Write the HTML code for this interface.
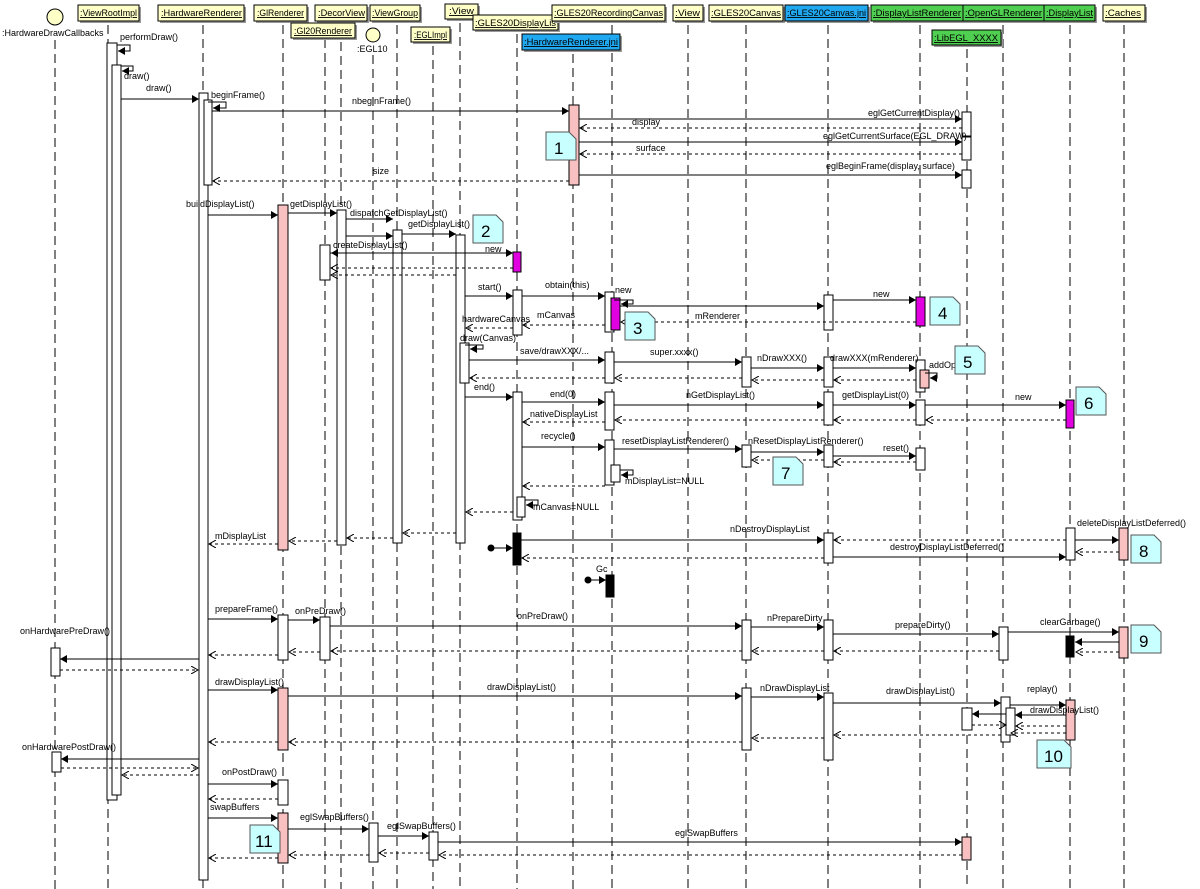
<!DOCTYPE html>
<html><head><meta charset="utf-8"><style>
html,body{margin:0;padding:0;background:#fff}
svg{display:block}
text{font-family:"Liberation Sans",sans-serif;font-size:9px;fill:#000}
.h{font-size:9px;text-decoration:underline}
.n{font-size:17px}
.ll{stroke:#000;stroke-width:1;stroke-dasharray:9,5}
.m{stroke:#000;stroke-width:1;fill:none;marker-end:url(#a)}
.r{stroke:#000;stroke-width:1;fill:none;stroke-dasharray:3,3;marker-end:url(#o)}
.act{fill:#fff;stroke:#000}
.pk{fill:#f8c0c0;stroke:#000}
.mg{fill:#e000e0;stroke:#000}
.bk{fill:#000;stroke:#000}
.y{fill:#ffffc8;stroke:#000}
.b{fill:#20a8f0;stroke:#000}
.g{fill:#50d050;stroke:#000}
.sh{fill:#999}
.nt{fill:#c8ffff;stroke:#555}
</style></head><body>
<svg width="1200" height="889" viewBox="0 0 1200 889" xmlns="http://www.w3.org/2000/svg">
<defs>
<marker id="a" markerWidth="8" markerHeight="8" refX="7" refY="4" orient="auto" markerUnits="userSpaceOnUse"><path d="M0,0 L7,4 L0,8z" fill="#000"/></marker>
<marker id="o" markerWidth="8" markerHeight="8" refX="7" refY="4" orient="auto" markerUnits="userSpaceOnUse"><path d="M0,0 L7,4 L0,8" fill="none" stroke="#000"/></marker>
</defs>

<!-- lifelines -->
<g class="ll">
<line x1="55" y1="40" x2="55" y2="889"/><line x1="108" y1="25" x2="108" y2="889"/>
<line x1="203" y1="25" x2="203" y2="889"/><line x1="283" y1="25" x2="283" y2="889"/>
<line x1="325" y1="25" x2="325" y2="889"/><line x1="341" y1="42" x2="341" y2="889"/>
<line x1="373" y1="55" x2="373" y2="889"/><line x1="397" y1="25" x2="397" y2="889"/>
<line x1="433" y1="46" x2="433" y2="889"/><line x1="460" y1="23" x2="460" y2="889"/>
<line x1="517" y1="34" x2="517" y2="889"/><line x1="573" y1="54" x2="573" y2="889"/>
<line x1="612" y1="25" x2="612" y2="889"/><line x1="688" y1="25" x2="688" y2="889"/>
<line x1="746" y1="25" x2="746" y2="889"/><line x1="828" y1="25" x2="828" y2="889"/>
<line x1="920" y1="25" x2="920" y2="889"/><line x1="967" y1="49" x2="967" y2="889"/>
<line x1="1003" y1="25" x2="1003" y2="889"/><line x1="1070" y1="25" x2="1070" y2="889"/>
<line x1="1124" y1="25" x2="1124" y2="889"/>
</g>

<!-- headers -->
<circle cx="55" cy="17" r="8" fill="#ffffc8" stroke="#000"/>
<text x="2" y="36">:HardwareDrawCallbacks</text>
<circle cx="373" cy="35" r="7" fill="#ffffc8" stroke="#000"/>
<text x="357" y="52">:EGL10</text>
<g>
<rect class="sh" x="80" y="7" width="61" height="16"/><rect class="y" x="78" y="5" width="61" height="16"/><text class="h" x="80" y="16" textLength="57" lengthAdjust="spacingAndGlyphs">:ViewRootImpl</text>
<rect class="sh" x="160" y="7" width="86" height="16"/><rect class="y" x="158" y="5" width="86" height="16"/><text class="h" x="161" y="16" textLength="81" lengthAdjust="spacingAndGlyphs">:HardwareRenderer</text>
<rect class="sh" x="256" y="7" width="53" height="16"/><rect class="y" x="254" y="5" width="53" height="16"/><text class="h" x="257" y="16" textLength="47" lengthAdjust="spacingAndGlyphs">:GlRenderer</text>
<rect class="sh" x="317" y="7" width="52" height="16"/><rect class="y" x="315" y="5" width="52" height="16"/><text class="h" x="318" y="16" textLength="47" lengthAdjust="spacingAndGlyphs">:DecorView</text>
<rect class="sh" x="372" y="7" width="50" height="16"/><rect class="y" x="370" y="5" width="50" height="16"/><text class="h" x="372" y="16" textLength="46" lengthAdjust="spacingAndGlyphs">:ViewGroup</text>
<rect class="sh" x="293" y="25" width="64" height="15"/><rect class="y" x="291" y="23" width="64" height="15"/><text class="h" x="294" y="34" textLength="58" lengthAdjust="spacingAndGlyphs">:Gl20Renderer</text>
<rect class="sh" x="447" y="6" width="33" height="15"/><rect class="y" x="445" y="4" width="33" height="15"/><text class="h" x="449" y="14" textLength="25" lengthAdjust="spacingAndGlyphs">:View</text>
<rect class="sh" x="413" y="29" width="39" height="15"/><rect class="y" x="411" y="27" width="39" height="15"/><text class="h" x="414" y="38" textLength="33" lengthAdjust="spacingAndGlyphs">:EGLImpl</text>
<rect class="sh" x="475" y="17" width="85" height="15"/><rect class="y" x="473" y="15" width="85" height="15"/><text class="h" x="475" y="26" textLength="81" lengthAdjust="spacingAndGlyphs">:GLES20DisplayLis</text>
<rect class="sh" x="554" y="7" width="113" height="16"/><rect class="y" x="552" y="5" width="113" height="16"/><text class="h" x="554" y="16" textLength="109" lengthAdjust="spacingAndGlyphs">:GLES20RecordingCanvas</text>
<rect class="sh" x="524" y="36" width="98" height="16"/><rect class="b" x="522" y="34" width="98" height="16"/><text class="h" x="524" y="45" textLength="94" lengthAdjust="spacingAndGlyphs">:HardwareRenderer.jni</text>
<rect class="sh" x="675" y="7" width="30" height="16"/><rect class="y" x="673" y="5" width="30" height="16"/><text class="h" x="675" y="16" textLength="25" lengthAdjust="spacingAndGlyphs">:View</text>
<rect class="sh" x="711" y="7" width="74" height="16"/><rect class="y" x="709" y="5" width="74" height="16"/><text class="h" x="711" y="16" textLength="70" lengthAdjust="spacingAndGlyphs">:GLES20Canvas</text>
<rect class="sh" x="787" y="7" width="83" height="16"/><rect class="b" x="785" y="5" width="83" height="16"/><text class="h" x="787" y="16" textLength="79" lengthAdjust="spacingAndGlyphs">:GLES20Canvas.jni</text>
<rect class="sh" x="873" y="7" width="176" height="16"/>
<rect class="g" x="871" y="5" width="92" height="16"/><text class="h" x="873" y="16" textLength="88" lengthAdjust="spacingAndGlyphs">:DisplayListRenderer</text>
<rect class="g" x="963" y="5" width="81" height="16"/><text class="h" x="965" y="16" textLength="77" lengthAdjust="spacingAndGlyphs">:OpenGLRenderer</text>
<rect class="sh" x="1047" y="7" width="50" height="16"/><rect class="g" x="1044" y="5" width="51" height="16"/><text class="h" x="1046" y="16" textLength="47" lengthAdjust="spacingAndGlyphs">:DisplayList</text>
<rect class="sh" x="1105" y="7" width="42" height="16"/><rect class="y" x="1103" y="5" width="42" height="16"/><text class="h" x="1105" y="16" textLength="36" lengthAdjust="spacingAndGlyphs">:Caches</text>
<rect class="sh" x="934" y="32" width="69" height="15"/><rect class="g" x="932" y="30" width="69" height="15"/><text class="h" x="934" y="41" textLength="64" lengthAdjust="spacingAndGlyphs">:LibEGL_XXXX</text>
</g>

<!-- activations -->
<rect class="act" x="107" y="43" width="10" height="757"/>
<rect class="act" x="112" y="65" width="9" height="730"/>
<rect class="act" x="199" y="93" width="9" height="787"/>
<rect class="act" x="204" y="100" width="8" height="85"/>
<rect class="pk" x="569" y="105" width="10" height="80"/>
<rect class="act" x="962" y="112" width="9" height="24"/>
<rect class="act" x="962" y="137" width="9" height="23"/>
<rect class="act" x="962" y="170" width="9" height="18"/>
<rect class="pk" x="278" y="205" width="10" height="345"/>
<rect class="act" x="337" y="210" width="9" height="335"/>
<rect class="act" x="320" y="245" width="10" height="35"/>
<rect class="act" x="393" y="230" width="9" height="313"/>
<rect class="act" x="456" y="235" width="9" height="308"/>
<rect class="act" x="460" y="343" width="9" height="40"/>
<rect class="mg" x="513" y="252" width="8" height="20"/>
<rect class="act" x="513" y="290" width="9" height="45"/>
<rect class="act" x="513" y="392" width="9" height="128"/>
<rect class="act" x="517" y="497" width="8" height="20"/>
<rect class="act" x="605" y="292" width="9" height="40"/>
<rect class="mg" x="611" y="298" width="9" height="32"/>
<rect class="act" x="605" y="352" width="9" height="31"/>
<rect class="act" x="605" y="392" width="9" height="38"/>
<rect class="act" x="605" y="440" width="9" height="45"/>
<rect class="act" x="611" y="465" width="9" height="17"/>
<rect class="act" x="742" y="357" width="9" height="30"/>
<rect class="act" x="742" y="445" width="9" height="22"/>
<rect class="act" x="742" y="620" width="9" height="40"/>
<rect class="act" x="742" y="688" width="9" height="62"/>
<rect class="act" x="824" y="295" width="9" height="35"/>
<rect class="act" x="824" y="357" width="9" height="30"/>
<rect class="act" x="824" y="392" width="9" height="33"/>
<rect class="act" x="824" y="445" width="9" height="22"/>
<rect class="act" x="824" y="533" width="9" height="30"/>
<rect class="act" x="824" y="620" width="9" height="40"/>
<rect class="act" x="824" y="693" width="9" height="67"/>
<rect class="mg" x="916" y="297" width="9" height="29"/>
<rect class="act" x="916" y="360" width="9" height="32"/>
<rect class="pk" x="920" y="370" width="9" height="18"/>
<rect class="act" x="916" y="400" width="9" height="25"/>
<rect class="act" x="916" y="448" width="9" height="22"/>
<rect class="mg" x="1066" y="400" width="8" height="28"/>
<rect class="act" x="1066" y="528" width="9" height="32"/>
<rect class="bk" x="1066" y="636" width="8" height="21"/>
<rect class="pk" x="1066" y="700" width="9" height="40"/>
<rect class="pk" x="1119" y="528" width="9" height="32"/>
<rect class="pk" x="1119" y="627" width="9" height="31"/>
<rect class="act" x="999" y="627" width="9" height="33"/>
<rect class="act" x="1001" y="697" width="9" height="45"/>
<rect class="act" x="1006" y="708" width="9" height="27"/>
<rect class="act" x="962" y="708" width="10" height="22"/>
<rect class="bk" x="513" y="533" width="8" height="32"/>
<rect class="bk" x="606" y="575" width="8" height="22"/>
<circle cx="491" cy="548" r="3.5" fill="#000"/>
<circle cx="588" cy="580" r="3.5" fill="#000"/>
<rect class="act" x="51" y="648" width="9" height="28"/>
<rect class="act" x="52" y="752" width="9" height="20"/>
<rect class="act" x="278" y="615" width="10" height="45"/>
<rect class="act" x="320" y="617" width="10" height="43"/>
<rect class="pk" x="278" y="688" width="10" height="62"/>
<rect class="act" x="278" y="780" width="10" height="25"/>
<rect class="pk" x="278" y="813" width="10" height="50"/>
<rect class="act" x="369" y="823" width="9" height="39"/>
<rect class="act" x="429" y="832" width="9" height="28"/>
<rect class="pk" x="962" y="837" width="9" height="23"/>

<!-- messages -->
<g>
<path class="m" d="M117,45 H130 V51 H118"/><text x="120" y="40">performDraw()</text>
<path class="m" d="M121,66 H133 V71 H122"/><text x="124" y="79">draw()</text>
<line class="m" x1="121" y1="99" x2="199" y2="99"/><text x="146" y="91">draw()</text>
<path class="m" d="M208,102 H226 V108 H213"/><text x="211" y="98">beginFrame()</text>
<line class="m" x1="212" y1="111" x2="569" y2="111"/><text x="352" y="104">nbeginFrame()</text>
<line class="m" x1="579" y1="119" x2="962" y2="119"/><text x="868" y="116">eglGetCurrentDisplay()</text>
<line class="r" x1="962" y1="128" x2="580" y2="128"/><text x="632" y="125">display</text>
<line class="m" x1="579" y1="142" x2="962" y2="142"/><text x="823" y="139">eglGetCurrentSurface(EGL_DRAW)</text>
<line class="r" x1="962" y1="154" x2="580" y2="154"/><text x="636" y="151">surface</text>
<line class="m" x1="579" y1="175" x2="962" y2="175"/><text x="826" y="169">eglBeginFrame(display, surface)</text>
<line class="r" x1="569" y1="181" x2="213" y2="181"/><text x="373" y="174">size</text>

<line class="m" x1="208" y1="215" x2="278" y2="215"/><text x="186" y="207">buildDisplayList()</text>
<line class="m" x1="288" y1="213" x2="337" y2="213"/><text x="290" y="207">getDisplayList()</text>
<line class="m" x1="346" y1="219" x2="393" y2="219"/><text x="350" y="216">dispatchGetDisplayList()</text>
<line class="m" x1="402" y1="234" x2="456" y2="234"/><text x="408" y="227">getDisplayList()</text>
<line class="m" x1="346" y1="236" x2="393" y2="236"/>
<text x="333" y="248">createDisplayList()</text>
<line class="m" x1="330" y1="253" x2="513" y2="253"/><text x="485" y="252">new</text>
<line class="m" x1="456" y1="253" x2="331" y2="253"/>
<line class="r" x1="513" y1="268" x2="331" y2="268"/>
<line class="r" x1="456" y1="275" x2="331" y2="275"/>

<line class="m" x1="465" y1="296" x2="513" y2="296"/><text x="478" y="290">start()</text>
<line class="m" x1="522" y1="296" x2="605" y2="296"/><text x="545" y="288">obtain(this)</text>
<path class="m" d="M614,300 H633 V304 H621"/><text x="615" y="293">new</text>
<line class="m" x1="620" y1="306" x2="824" y2="306"/>
<line class="m" x1="833" y1="300" x2="916" y2="300"/><text x="873" y="297">new</text>
<line class="r" x1="916" y1="322" x2="621" y2="322"/><text x="695" y="319">mRenderer</text>
<line class="r" x1="605" y1="325" x2="523" y2="325"/><text x="537" y="318">mCanvas</text>
<line class="r" x1="513" y1="328" x2="466" y2="328"/><text x="462" y="322">hardwareCanvas</text>

<path class="m" d="M465,345 H483 V349 H470"/><text x="460" y="341">draw(Canvas)</text>
<line class="m" x1="469" y1="360" x2="605" y2="360"/><text x="520" y="354">save/drawXXX/...</text>
<line class="m" x1="614" y1="362" x2="742" y2="362"/><text x="650" y="355">super.xxxx()</text>
<line class="m" x1="751" y1="368" x2="824" y2="368"/><text x="757" y="361">nDrawXXX()</text>
<line class="m" x1="833" y1="368" x2="916" y2="368"/><text x="830" y="361">drawXXX(mRenderer)</text>
<path class="m" d="M925,373 H937 V378 H930"/><text x="929" y="368">addOp()</text>
<line class="r" x1="916" y1="380" x2="834" y2="380"/>
<line class="r" x1="824" y1="380" x2="752" y2="380"/>
<line class="r" x1="742" y1="378" x2="615" y2="378"/>
<line class="r" x1="605" y1="378" x2="470" y2="378"/>

<line class="m" x1="465" y1="397" x2="513" y2="397"/><text x="474" y="390">end()</text>
<line class="m" x1="522" y1="402" x2="605" y2="402"/><text x="550" y="397">end(0)</text>
<line class="m" x1="614" y1="405" x2="824" y2="405"/><text x="686" y="398">nGetDisplayList()</text>
<line class="m" x1="833" y1="405" x2="916" y2="405"/><text x="842" y="398">getDisplayList(0)</text>
<line class="m" x1="925" y1="405" x2="1066" y2="405"/><text x="1015" y="400">new</text>
<line class="r" x1="1066" y1="420" x2="926" y2="420"/>
<line class="r" x1="916" y1="420" x2="834" y2="420"/>
<line class="r" x1="824" y1="420" x2="615" y2="420"/>
<line class="r" x1="605" y1="422" x2="523" y2="422"/><text x="530" y="417">nativeDisplayList</text>

<line class="m" x1="522" y1="447" x2="605" y2="447"/><text x="541" y="439">recycle()</text>
<line class="m" x1="614" y1="449" x2="742" y2="449"/><text x="622" y="444">resetDisplayListRenderer()</text>
<line class="m" x1="751" y1="452" x2="824" y2="452"/><text x="748" y="444">nResetDisplayListRenderer()</text>
<line class="m" x1="833" y1="456" x2="916" y2="456"/><text x="883" y="451">reset()</text>
<line class="r" x1="916" y1="462" x2="834" y2="462"/>
<line class="r" x1="824" y1="460" x2="752" y2="460"/>
<path class="m" d="M620,470 H633 V475 H621"/><text x="625" y="484">mDisplayList=NULL</text>
<line class="r" x1="605" y1="486" x2="523" y2="486"/>
<path class="m" d="M525,500 H538 V505 H526"/><text x="533" y="510">mCanvas=NULL</text>
<line class="r" x1="513" y1="512" x2="466" y2="512"/>
<line class="r" x1="456" y1="533" x2="403" y2="533"/>
<line class="r" x1="393" y1="538" x2="347" y2="538"/>
<line class="r" x1="337" y1="541" x2="289" y2="541"/>
<line class="r" x1="278" y1="544" x2="209" y2="544"/><text x="215" y="539">mDisplayList</text>

<line class="m" x1="494" y1="548" x2="513" y2="548"/>
<line class="m" x1="521" y1="540" x2="824" y2="540"/><text x="730" y="532">nDestroyDisplayList</text>
<line class="m" x1="1075" y1="540" x2="1119" y2="540"/><text x="1077" y="526">deleteDisplayListDeferred()</text>
<line class="r" x1="1119" y1="552" x2="1076" y2="552"/>
<line class="r" x1="1066" y1="540" x2="834" y2="540"/>
<line class="m" x1="833" y1="557" x2="1066" y2="557"/><text x="890" y="550">destroyDisplayListDeferred()</text>
<line class="r" x1="824" y1="558" x2="522" y2="558"/>
<line class="m" x1="591" y1="580" x2="606" y2="580"/><text x="596" y="572">Gc</text>

<line class="m" x1="208" y1="619" x2="278" y2="619"/><text x="215" y="612">prepareFrame()</text>
<line class="m" x1="288" y1="620" x2="320" y2="620"/><text x="295" y="614">onPreDraw()</text>
<line class="m" x1="330" y1="626" x2="742" y2="626"/><text x="517" y="619">onPreDraw()</text>
<line class="m" x1="751" y1="627" x2="824" y2="627"/><text x="767" y="621">nPrepareDirty</text>
<line class="m" x1="833" y1="634" x2="999" y2="634"/><text x="895" y="628">prepareDirty()</text>
<line class="m" x1="1008" y1="632" x2="1119" y2="632"/><text x="1040" y="625">clearGarbage()</text>
<line class="m" x1="1119" y1="642" x2="1075" y2="642"/>
<line class="r" x1="1119" y1="652" x2="1076" y2="652"/>
<line class="r" x1="999" y1="651" x2="834" y2="651"/>
<line class="r" x1="824" y1="651" x2="752" y2="651"/>
<line class="r" x1="742" y1="651" x2="331" y2="651"/>
<line class="r" x1="320" y1="652" x2="289" y2="652"/>
<line class="r" x1="278" y1="655" x2="209" y2="655"/>
<line class="m" x1="199" y1="659" x2="60" y2="659"/><text x="20" y="634">onHardwarePreDraw()</text>
<line class="r" x1="60" y1="670" x2="198" y2="670"/>

<line class="m" x1="208" y1="690" x2="278" y2="690"/><text x="215" y="685">drawDisplayList()</text>
<line class="m" x1="288" y1="696" x2="742" y2="696"/><text x="487" y="690">drawDisplayList()</text>
<line class="m" x1="751" y1="697" x2="824" y2="697"/><text x="760" y="691">nDrawDisplayList</text>
<line class="m" x1="833" y1="703" x2="1001" y2="703"/><text x="886" y="694">drawDisplayList()</text>
<line class="m" x1="1010" y1="705" x2="1066" y2="705"/><text x="1027" y="692">replay()</text>
<line class="m" x1="1066" y1="715" x2="1015" y2="715"/><text x="1030" y="713">drawDisplayList()</text>
<line class="m" x1="1006" y1="714" x2="972" y2="714"/>
<line class="r" x1="972" y1="725" x2="1006" y2="725"/>
<line class="r" x1="1066" y1="726" x2="1016" y2="726"/>
<line class="r" x1="1066" y1="733" x2="1011" y2="733"/>
<line class="r" x1="1001" y1="735" x2="834" y2="735"/>
<line class="r" x1="824" y1="738" x2="752" y2="738"/>
<line class="r" x1="742" y1="742" x2="289" y2="742"/>
<line class="r" x1="278" y1="742" x2="209" y2="742"/>
<line class="m" x1="199" y1="759" x2="61" y2="759"/><text x="22" y="750">onHardwarePostDraw()</text>
<line class="r" x1="61" y1="768" x2="198" y2="768"/>
<line class="r" x1="199" y1="775" x2="122" y2="775"/>

<line class="m" x1="208" y1="784" x2="278" y2="784"/><text x="222" y="775">onPostDraw()</text>
<line class="r" x1="278" y1="799" x2="209" y2="799"/>
<line class="m" x1="208" y1="818" x2="278" y2="818"/><text x="210" y="810">swapBuffers</text>
<line class="m" x1="288" y1="829" x2="369" y2="829"/><text x="300" y="820">eglSwapBuffers()</text>
<line class="m" x1="378" y1="836" x2="429" y2="836"/><text x="387" y="829">eglSwapBuffers()</text>
<line class="m" x1="438" y1="842" x2="962" y2="842"/><text x="675" y="836">eglSwapBuffers</text>
<line class="r" x1="962" y1="855" x2="439" y2="855"/>
<line class="r" x1="429" y1="853" x2="379" y2="853"/>
<line class="r" x1="369" y1="855" x2="289" y2="855"/>
<line class="r" x1="278" y1="858" x2="209" y2="858"/>
</g>

<!-- notes -->
<g>
<path class="nt" d="M546,132 H569 L576,139 V160 H546z"/><text class="n" x="554" y="154">1</text>
<path class="nt" d="M473,215 H496 L503,222 V243 H473z"/><text class="n" x="481" y="237">2</text>
<path class="nt" d="M625,312 H648 L655,319 V340 H625z"/><text class="n" x="633" y="334">3</text>
<path class="nt" d="M930,297 H953 L960,304 V325 H930z"/><text class="n" x="938" y="319">4</text>
<path class="nt" d="M955,346 H978 L985,353 V374 H955z"/><text class="n" x="963" y="368">5</text>
<path class="nt" d="M1076,387 H1099 L1106,394 V415 H1076z"/><text class="n" x="1084" y="409">6</text>
<path class="nt" d="M773,457 H796 L803,464 V485 H773z"/><text class="n" x="781" y="479">7</text>
<path class="nt" d="M1131,535 H1154 L1161,542 V563 H1131z"/><text class="n" x="1139" y="557">8</text>
<path class="nt" d="M1131,625 H1154 L1161,632 V653 H1131z"/><text class="n" x="1139" y="647">9</text>
<path class="nt" d="M1037,740 H1064 L1071,747 V768 H1037z"/><text class="n" x="1044" y="762">10</text>
<path class="nt" d="M250,825 H273 L280,832 V853 H250z"/><text class="n" x="255" y="847">11</text>
</g>
</svg>
</body></html>
